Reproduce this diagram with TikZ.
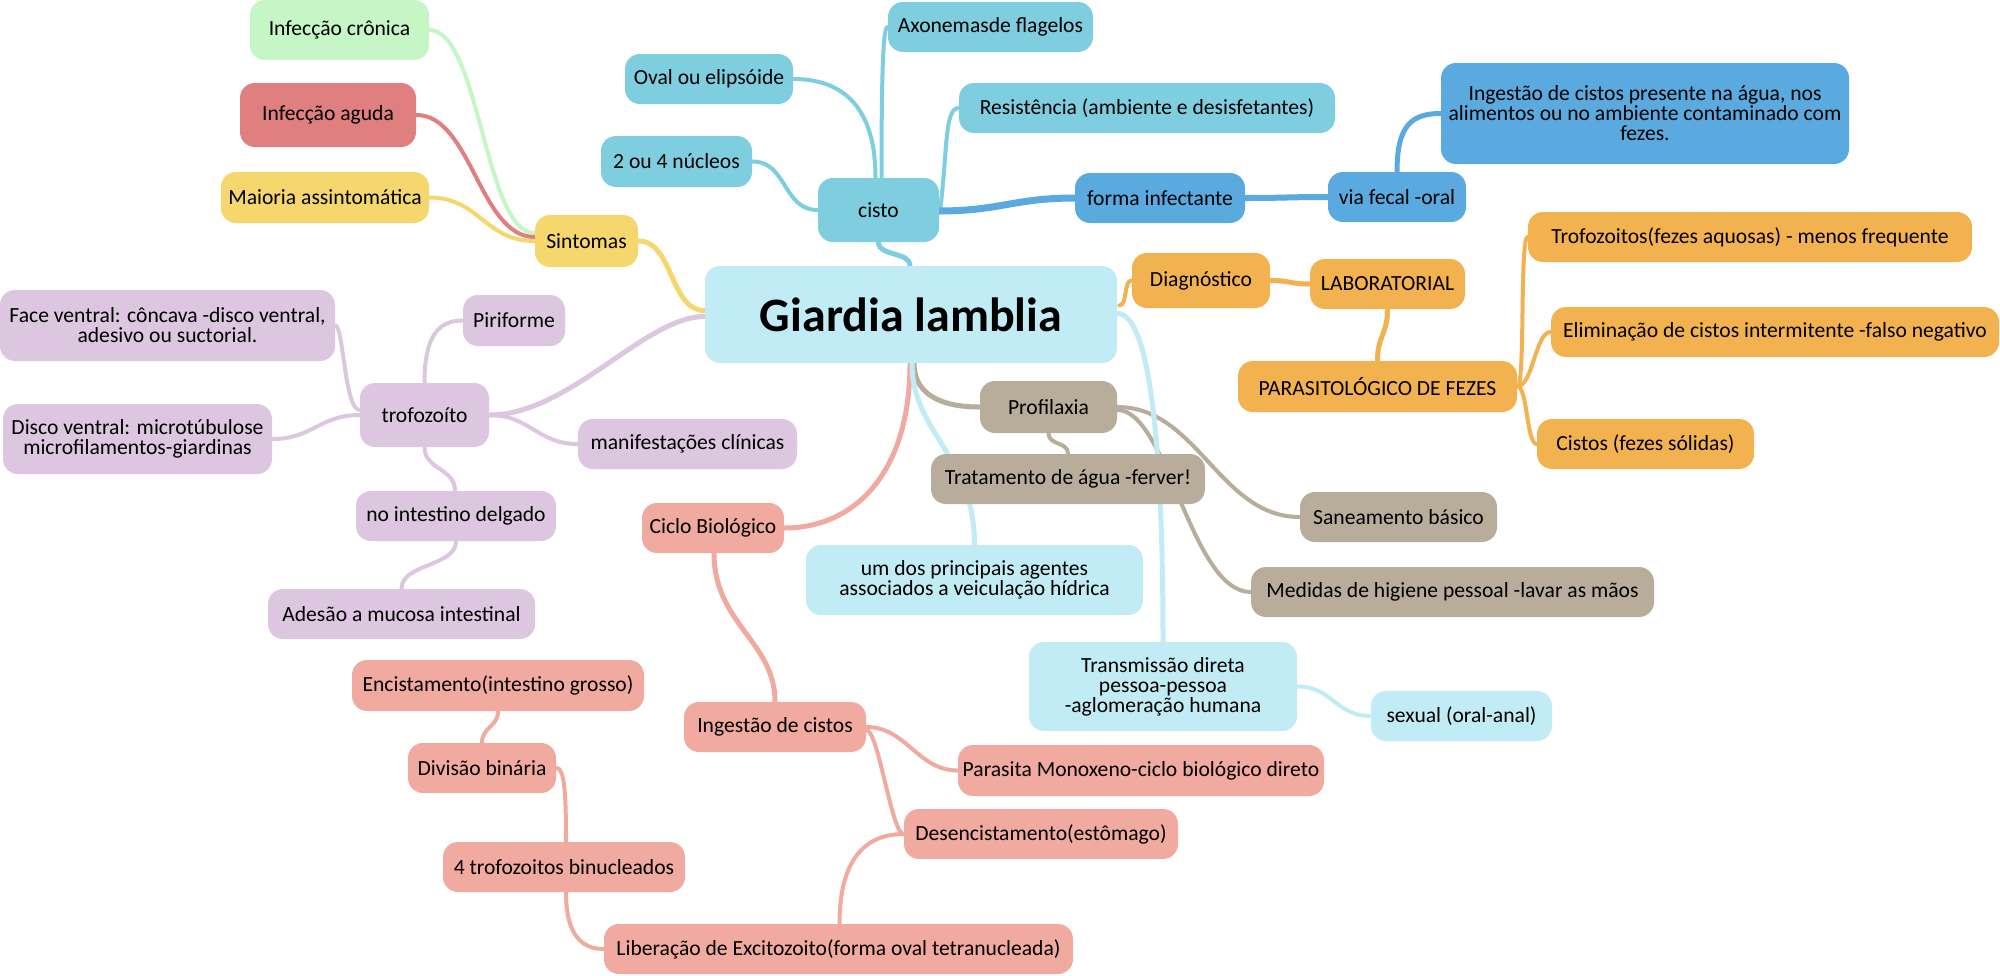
\documentclass[tikz,border=0pt]{standalone}
\usepackage{fontspec}
\setmainfont{Carlito}
\usetikzlibrary{calc,backgrounds}
\definecolor{cGreen}{HTML}{C6F5C6}
\definecolor{cRed}{HTML}{DF7F7F}
\definecolor{cYellow}{HTML}{F5D76E}
\definecolor{cCisto}{HTML}{7ECEE0}
\definecolor{cBlue}{HTML}{5AAAE0}
\definecolor{cLight}{HTML}{C2ECF5}
\definecolor{cOrange}{HTML}{F3B250}
\definecolor{cLav}{HTML}{DDC6E0}
\definecolor{cTaupe}{HTML}{B8AC9B}
\definecolor{cSalmon}{HTML}{F0AAA0}
\tikzset{
  box/.style={rounded corners=7.5pt, inner sep=0pt, align=center, text=black,
    font=\fontsize{10.8}{10}\selectfont},
  conn/.style={line width=2pt, line cap=round},
  thickconn/.style={line width=3.5pt, line cap=round}
}
\begin{document}
\begin{tikzpicture}[x=0.5pt,y=-0.5pt]
\useasboundingbox (0,0) rectangle (2000,975);

% ---------- nodes ----------
\node[box, fill=cLight, minimum width=206pt, minimum height=48.5pt, font=\fontsize{24}{24}\selectfont\bfseries] (giardia) at (911,314.5) {Giardia lamblia};

\node[box, fill=cGreen, minimum width=89.5pt, minimum height=30pt] (cron) at (339.5,30) {Infecção crônica};
\node[box, fill=cRed, minimum width=88pt, minimum height=32pt] (aguda) at (328,115) {Infecção aguda};
\node[box, fill=cYellow, minimum width=104pt, minimum height=25.5pt] (maioria) at (325,197.5) {Maioria assintomática};
\node[box, fill=cYellow, minimum width=51.5pt, minimum height=26pt] (sint) at (586.5,241) {Sintomas};

\node[box, fill=cCisto, minimum width=84pt, minimum height=25pt] (oval) at (709,79) {Oval ou elipsóide};
\node[box, fill=cCisto, minimum width=102.5pt, minimum height=25pt] (axon) at (990.5,27) {Axonemasde flagelos};
\node[box, fill=cCisto, minimum width=188pt, minimum height=25pt] (resist) at (1147,108) {Resistência (ambiente e desisfetantes)};
\node[box, fill=cCisto, minimum width=75.5pt, minimum height=25.5pt] (nucleos) at (676.5,161.5) {2 ou 4 núcleos};
\node[box, fill=cCisto, minimum width=60.5pt, minimum height=32pt] (cisto) at (878.5,210) {cisto};

\node[box, fill=cBlue, minimum width=85pt, minimum height=25pt] (forma) at (1160,198) {forma infectante};
\node[box, fill=cBlue, minimum width=69pt, minimum height=25pt] (via) at (1397,197) {via fecal -oral};
\node[box, fill=cBlue, minimum width=204pt, minimum height=50.5pt] (ingest) at (1645,113.5) {Ingestão de cistos presente na água, nos\\alimentos ou no ambiente contaminado com\\fezes.};

\node[box, fill=cOrange, minimum width=69pt, minimum height=27.5pt] (diag) at (1201,280.5) {Diagnóstico};
\node[box, fill=cOrange, minimum width=77.5pt, minimum height=25pt] (lab) at (1387.5,284) {LABORATORIAL};
\node[box, fill=cOrange, minimum width=139.5pt, minimum height=25.5pt] (parasit) at (1377.5,386.5) {PARASITOLÓGICO DE FEZES};
\node[box, fill=cOrange, minimum width=222pt, minimum height=25pt] (trofz) at (1750,237) {Trofozoitos(fezes aquosas) - menos frequente};
\node[box, fill=cOrange, minimum width=224pt, minimum height=25pt] (elim) at (1775,332) {Eliminação de cistos intermitente -falso negativo};
\node[box, fill=cOrange, minimum width=108.5pt, minimum height=25pt] (cistos) at (1645.5,444) {Cistos (fezes sólidas)};

\node[box, fill=cLav, minimum width=167.5pt, minimum height=35.5pt] (face) at (167.5,325.5) {Face ventral: côncava -disco ventral,\\adesivo ou suctorial.};
\node[box, fill=cLav, minimum width=51pt, minimum height=25.5pt] (pirif) at (514,320.5) {Piriforme};
\node[box, fill=cLav, minimum width=64.5pt, minimum height=32pt] (trofo) at (424.5,415) {trofozoíto};
\node[box, fill=cLav, minimum width=134.5pt, minimum height=35pt] (disco) at (137.5,439) {Disco ventral: microtúbulose\\microfilamentos-giardinas};
\node[box, fill=cLav, minimum width=109.5pt, minimum height=25pt] (manif) at (687.5,444) {manifestações clínicas};
\node[box, fill=cLav, minimum width=100pt, minimum height=25pt] (intest) at (456,516) {no intestino delgado};
\node[box, fill=cLav, minimum width=133.5pt, minimum height=25pt] (adesao) at (401.5,614) {Adesão a mucosa intestinal};

\node[box, fill=cTaupe, minimum width=68.5pt, minimum height=26pt] (profil) at (1048.5,407) {Profilaxia};
\node[box, fill=cTaupe, minimum width=137pt, minimum height=25pt] (trat) at (1068,479) {Tratamento de água -ferver!};
\node[box, fill=cTaupe, minimum width=98.5pt, minimum height=25pt] (sanea) at (1398.5,517) {Saneamento básico};
\node[box, fill=cTaupe, minimum width=201.5pt, minimum height=25pt] (medidas) at (1452.5,592) {Medidas de higiene pessoal -lavar as mãos};

\node[box, fill=cLight, minimum width=168.5pt, minimum height=35pt] (umdos) at (974.5,580) {um dos principais agentes\\associados a veiculação hídrica};
\node[box, fill=cLight, minimum width=134pt, minimum height=44.5pt] (transm) at (1163,686.5) {Transmissão direta\\pessoa-pessoa\\-aglomeração humana};
\node[box, fill=cLight, minimum width=90.5pt, minimum height=25pt] (sexual) at (1461.5,716) {sexual (oral-anal)};

\node[box, fill=cSalmon, minimum width=71pt, minimum height=25pt] (ciclo) at (713,528) {Ciclo Biológico};
\node[box, fill=cSalmon, minimum width=146pt, minimum height=25.5pt] (encist) at (498,685.5) {Encistamento(intestino grosso)};
\node[box, fill=cSalmon, minimum width=91pt, minimum height=25pt] (ingcist) at (775,727) {Ingestão de cistos};
\node[box, fill=cSalmon, minimum width=74pt, minimum height=25pt] (divisao) at (482,768) {Divisão binária};
\node[box, fill=cSalmon, minimum width=183pt, minimum height=25.5pt] (parasita) at (1141,770.5) {Parasita Monoxeno-ciclo biológico direto};
\node[box, fill=cSalmon, minimum width=137pt, minimum height=25pt] (desenc) at (1041,834) {Desencistamento(estômago)};
\node[box, fill=cSalmon, minimum width=121pt, minimum height=25pt] (quatro) at (564,867) {4 trofozoitos binucleados};
\node[box, fill=cSalmon, minimum width=234.5pt, minimum height=25pt] (liber) at (838.5,949) {Liberação de Excitozoito(forma oval tetranucleada)};

% ---------- connectors ----------
\begin{scope}[on background layer]
\fill[white] (0,0) rectangle (2000,975);
% Sintomas
\draw[conn, cYellow, line width=2.5pt] ($(giardia.west)+(0,-4)$) .. controls +(-35,0) and +(35,0) .. (sint.east);
\draw[conn, cGreen] ($(sint.west)+(0,-8)$) .. controls +(-50,0) and +(50,0) .. (cron.east);
\draw[conn, cRed] ($(sint.west)+(0,-4)$) .. controls +(-55,0) and +(55,0) .. (aguda.east);
\draw[conn, cYellow] (sint.west) .. controls +(-50,0) and +(50,0) .. (maioria.east);
% cisto
\draw[conn, cCisto, line width=2.5pt] ($(giardia.north)+(-1,0)$) .. controls +(0,-14) and +(0,14) .. (cisto.south);
\draw[conn, cCisto] ($(cisto.north)+(-3,0)$) .. controls +(0,-70) and +(50,0) .. (oval.east);
\draw[conn, cCisto] ($(cisto.north)+(3,0)$) .. controls +(0,-118) and +(-4,0) .. (axon.west);
\draw[conn, cCisto] ($(cisto.east)+(1,-2)$) .. controls +(7,-58) and +(-14,0) .. (resist.west);
\draw[conn, cCisto] (cisto.west) .. controls +(-35,0) and +(35,0) .. (nucleos.east);
\draw[thickconn, cBlue] ($(cisto.east)+(0,1)$) .. controls +(60,0) and +(-60,0) .. (forma.west);
\draw[conn, cBlue, line width=3pt] (forma.east) .. controls +(40,0) and +(-40,0) .. (via.west);
\draw[conn, cBlue, line width=2.5pt] (via.north) .. controls +(0,-45) and +(-30,0) .. (ingest.west);
% Diagnostico
\draw[conn, cOrange] ($(giardia.east)+(2,-9)$) .. controls +(8,0) and +(-8,0) .. (diag.west);
\draw[conn, cOrange, line width=2.5pt] (diag.east) .. controls +(20,0) and +(-20,0) .. (lab.west);
\draw[conn, cOrange, line width=2.5pt] (lab.south) .. controls +(0,25) and +(0,-25) .. (parasit.north);
\draw[conn, cOrange] (parasit.east) .. controls +(8,0) and +(-8,0) .. (trofz.west);
\draw[conn, cOrange] (parasit.east) .. controls +(15,0) and +(-15,0) .. (elim.west);
\draw[conn, cOrange] (parasit.east) .. controls +(10,0) and +(-10,0) .. (cistos.west);
% trofozoito
\draw[conn, cLav, line width=2.5pt] ($(giardia.west)+(0,2)$) .. controls +(-60,0) and +(80,0) .. (trofo.east);
\draw[conn, cLav] (trofo.north) .. controls +(0,-45) and +(-25,0) .. (pirif.west);
\draw[conn, cLav] ($(trofo.west)+(0,-5)$) .. controls +(-15,0) and +(8,0) .. (face.east);
\draw[conn, cLav] (trofo.west) .. controls +(-40,0) and +(40,0) .. (disco.east);
\draw[conn, cLav] (trofo.east) .. controls +(40,0) and +(-40,0) .. (manif.west);
\draw[conn, cLav] (trofo.south) .. controls +(0,22) and +(0,-22) .. ($(intest.north)+(-1,0)$);
\draw[conn, cLav] (intest.south) .. controls +(0,25) and +(0,-25) .. (adesao.north);
% Profilaxia
\draw[conn, cTaupe, line width=2.5pt] ($(giardia.south)+(3,0)$) .. controls +(0,30) and +(-40,0) .. (profil.west);
\draw[conn, cTaupe] (profil.south) .. controls +(0,12) and +(0,-12) .. (trat.north);
\draw[conn, cTaupe] (profil.east) .. controls +(80,0) and +(-80,0) .. (sanea.west);
\draw[conn, cTaupe] ($(profil.east)+(0,3)$) .. controls +(50,0) and +(-60,0) .. (medidas.west);
% Ciclo
\draw[conn, cSalmon, line width=2.5pt] ($(giardia.south)+(-1,0)$) .. controls +(0,110) and +(70,0) .. (ciclo.east);
\draw[conn, cSalmon, line width=2.5pt] ($(ciclo.south)+(1,0)$) .. controls +(0,70) and +(0,-60) .. (ingcist.north);
\draw[conn, cSalmon] (ingcist.east) .. controls +(40,0) and +(-40,0) .. (parasita.west);
\draw[conn, cSalmon] ($(ingcist.east)+(0,3)$) .. controls +(12,0) and +(-12,0) .. (desenc.west);
\draw[conn, cSalmon] (desenc.west) .. controls +(-45,0) and +(0,-55) .. ($(liber.north)+(1,0)$);
\draw[conn, cSalmon] (liber.west) .. controls +(-30,0) and +(0,30) .. ($(quatro.south)+(2,0)$);
\draw[conn, cSalmon] ($(quatro.north)+(2,0)$) .. controls +(0,-50) and +(8,0) .. (divisao.east);
\draw[conn, cSalmon] (divisao.north) .. controls +(0,-15) and +(0,15) .. (encist.south);
% light cyan
\draw[conn, cLight, line width=2.5pt] ($(giardia.south)+(1,0)$) .. controls +(0,70) and +(0,-90) .. (umdos.north);
\draw[conn, cLight, line width=2.5pt] ($(giardia.east)+(0,-1)$) .. controls +(33,0) and +(0,-192) .. (transm.north);
\draw[conn, cLight] (transm.east) .. controls +(35,0) and +(-35,0) .. (sexual.west);
\end{scope}
\end{tikzpicture}
\end{document}
